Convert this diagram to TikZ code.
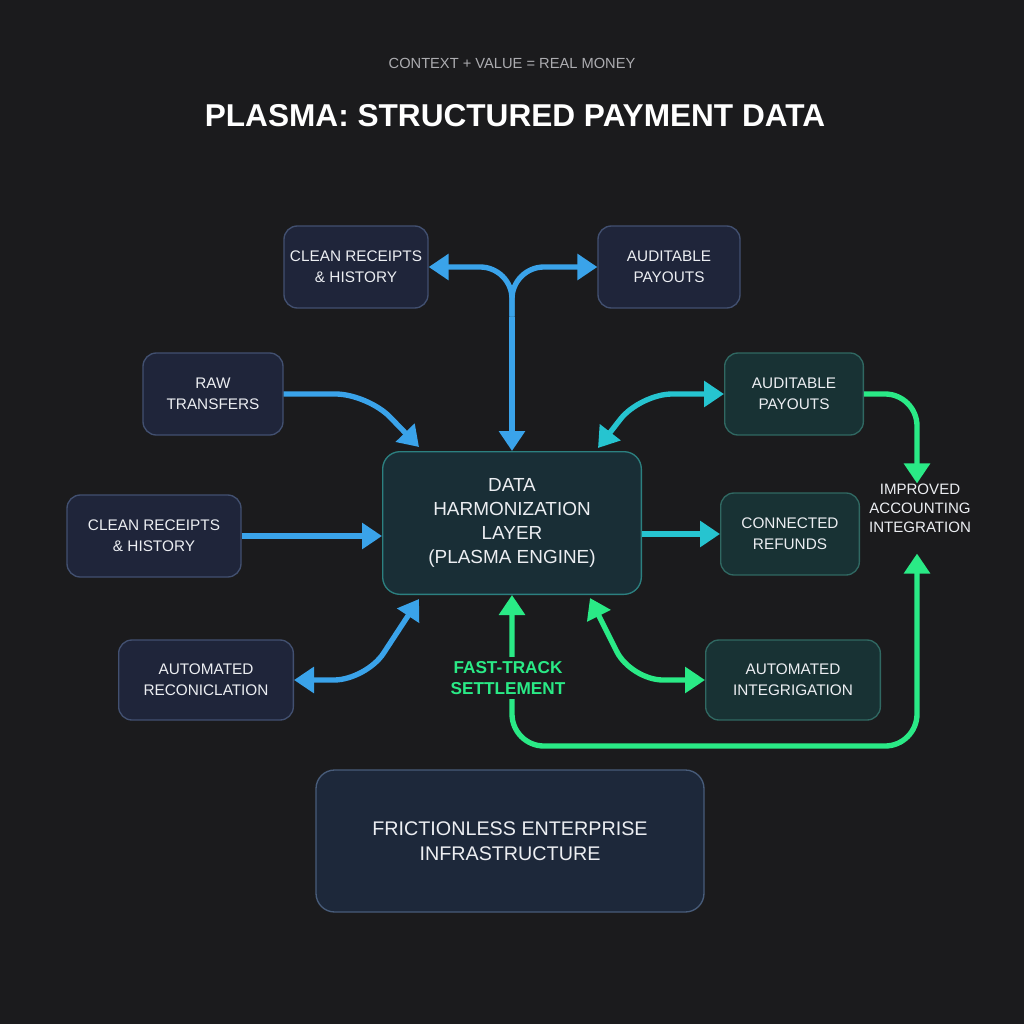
\documentclass[tikz,border=0pt]{standalone}
\usepackage{fontspec}
\setmainfont{Liberation Sans}
\usetikzlibrary{arrows.meta,calc}

\definecolor{bgcol}{RGB}{27,27,29}
\definecolor{txtcol}{RGB}{236,238,242}
\definecolor{subcol}{RGB}{172,172,176}
\definecolor{bluefill}{RGB}{31,37,58}
\definecolor{blueline}{RGB}{66,80,112}
\definecolor{tealfill}{RGB}{24,50,52}
\definecolor{tealline}{RGB}{48,104,98}
\definecolor{hubfill}{RGB}{25,46,54}
\definecolor{hubline}{RGB}{44,128,128}
\definecolor{basefill}{RGB}{29,40,58}
\definecolor{baseline}{RGB}{72,92,122}
\definecolor{blueflow}{RGB}{58,163,234}
\definecolor{tealflow}{RGB}{38,196,208}
\definecolor{greenflow}{RGB}{42,234,134}

\tikzset{every picture/.style={line width=0.75pt}}
\tikzset{
  >={Triangle[length=15pt,width=19pt]},
  card/.style={draw=blueline, fill=bluefill, rounded corners=10pt, line width=1pt,
    text=txtcol, align=center, inner sep=0pt,
    font=\fontsize{11.5}{15.75}\selectfont},
  tealcard/.style={card, draw=tealline, fill=tealfill},
  pipe/.style={line width=4pt, rounded corners=24pt},
}

\begin{document}
\begin{tikzpicture}[x=0.75pt,y=0.75pt,yscale=-1,xscale=1]
%Background
\fill[bgcol] (0,0) rectangle (1024,1024);
\useasboundingbox (0,0) rectangle (1024,1024);

% Text Node
\node (subtitle) at (512,63) [text=subcol, font=\fontsize{11}{13}\selectfont] {CONTEXT + VALUE = REAL MONEY};
% Text Node
\node (title) at (515,116) [text=white, font=\fontsize{23.7}{28}\selectfont\bfseries] {PLASMA: STRUCTURED PAYMENT DATA};

%Shape: Hub
\node (hub) at (512,523) [card, draw=hubline, fill=hubfill, rounded corners=13pt,
  minimum width=194pt, minimum height=107pt, font=\fontsize{14.2}{18}\selectfont]
  {DATA\\HARMONIZATION\\LAYER\\(PLASMA ENGINE)};

%Shape: left column
\node (crTop) at (356,267) [card, minimum width=108pt, minimum height=61.5pt] {CLEAN RECEIPTS\\\& HISTORY};
\node (apTop) at (669,267) [card, minimum width=106.5pt, minimum height=61.5pt] {AUDITABLE\\PAYOUTS};
\node (raw) at (213,394) [card, minimum width=105pt, minimum height=61.5pt] {RAW\\TRANSFERS};
\node (crLeft) at (154,536) [card, minimum width=130.5pt, minimum height=61.5pt] {CLEAN RECEIPTS\\\& HISTORY};
\node (recon) at (206,680) [card, minimum width=131pt, minimum height=60pt] {AUTOMATED\\RECONICLATION};

%Shape: right column
\node (apRight) at (794,394) [tealcard, minimum width=104pt, minimum height=61.5pt] {AUDITABLE\\PAYOUTS};
\node (refunds) at (790,534) [tealcard, minimum width=104pt, minimum height=61.5pt] {CONNECTED\\REFUNDS};
\node (autoInt) at (793,680) [tealcard, minimum width=131pt, minimum height=60pt] {AUTOMATED\\INTEGRIGATION};
% Text Node
\node (improved) at (920,508) [text=txtcol, align=center, inner sep=2pt, font=\fontsize{11.3}{14.3}\selectfont] {IMPROVED\\ACCOUNTING\\INTEGRATION};

%Shape: base
\node (base) at (510,841) [card, draw=baseline, fill=basefill, rounded corners=14pt,
  minimum width=291pt, minimum height=106.5pt, font=\fontsize{14.8}{19}\selectfont]
  {FRICTIONLESS ENTERPRISE\\INFRASTRUCTURE};

\coordinate (split) at ($(hub.north |- crTop.south)+(0,8)$);
\coordinate (loop) at (0,746);

%Blue connectors
\draw[pipe, blueflow, ->] (split) -- (hub.north);
\draw[pipe, blueflow, ->] (split) |- (crTop.east);
\draw[pipe, blueflow, ->] (split) |- (apTop.west);
\draw[pipe, blueflow, ->] (raw.east) -- ++(84,0) -- ($(hub.north west)+(37,-4)$);
\draw[pipe, blueflow, ->] (crLeft.east) -- (crLeft.east -| hub.west);
\draw[pipe, blueflow, <->] (recon.east) -- ++(72,0) -- ($(hub.south west)+(37,4)$);

%Teal connectors
\draw[pipe, tealflow, ->] (hub.east |- refunds.west) -- (refunds.west);
\draw[pipe, tealflow, <->] ($(hub.north east)+(-44,-3)$) -- ($(apRight.west)+(-84,0)$) -- (apRight.west);

%Green connectors
\draw[pipe, greenflow, <->] ($(hub.south east)+(-52,3)$) -- ($(autoInt.west)+(-74,0)$) -- (autoInt.west);
\draw[pipe, greenflow, ->] (apRight.east) -| ($(improved.north)+(-3,3)$);
\draw[pipe, greenflow, <->] (hub.south) -- (hub.south |- loop) -| ($(improved.south)+(-3,18)$);
% Text Node
\node (fast) at (508,678) [fill=bgcol, text=greenflow, align=center, inner sep=3pt,
  font=\fontsize{12.9}{15.75}\selectfont\bfseries] {FAST-TRACK\\SETTLEMENT};

\end{tikzpicture}
\end{document}
